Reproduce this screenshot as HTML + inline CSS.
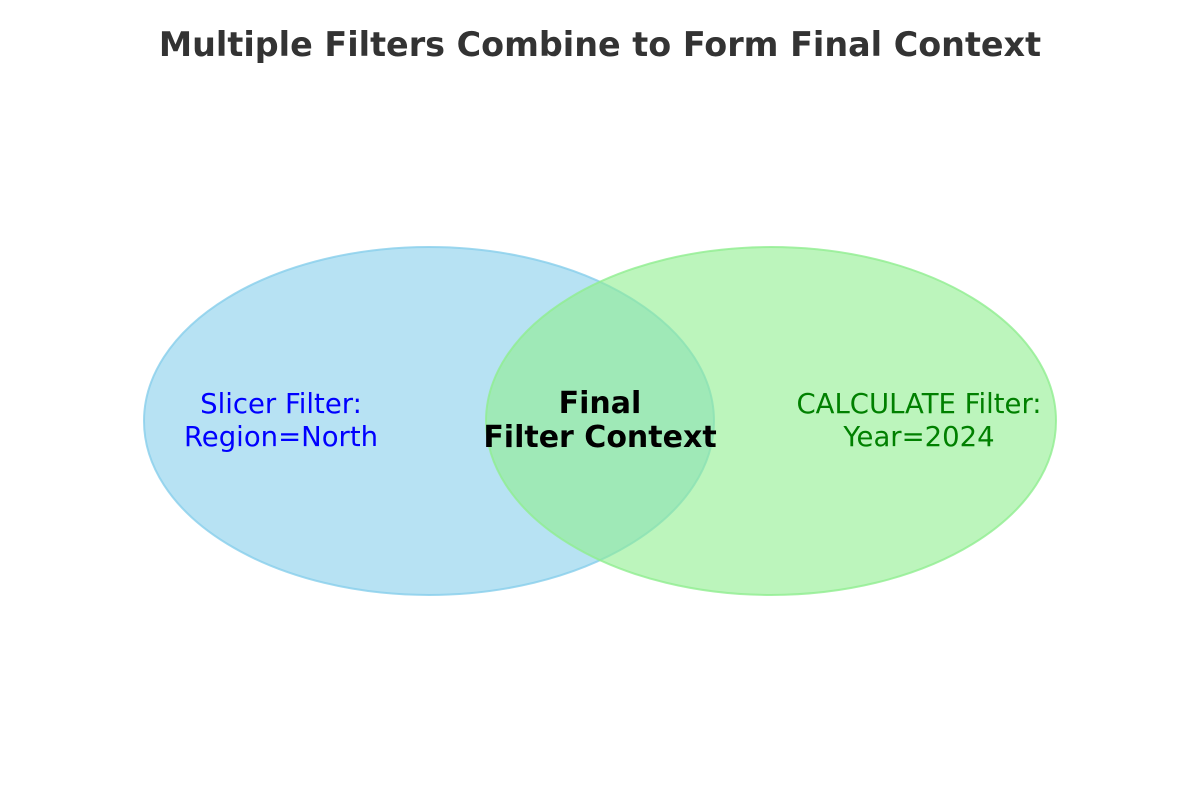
<!DOCTYPE html>
<html><head><meta charset="utf-8"><style>html,body{margin:0;padding:0;background:#fff}svg{display:block}</style></head>
<body>
<svg width="1200" height="800" viewBox="0 0 1200 800" xmlns="http://www.w3.org/2000/svg" font-family="DejaVu Sans, Liberation Sans, sans-serif">
<rect width="1200" height="800" fill="#fff"/>
<text x="600" y="56" text-anchor="middle" font-size="33.4" font-weight="bold" fill="#333">Multiple Filters Combine to Form Final Context</text>
<ellipse cx="429" cy="421" rx="285" ry="174" fill="#87CEEB" fill-opacity="0.6" stroke="#87CEEB" stroke-opacity="0.8" stroke-width="2"/>
<ellipse cx="771" cy="421" rx="285" ry="174" fill="#90EE90" fill-opacity="0.6" stroke="#90EE90" stroke-opacity="0.8" stroke-width="2"/>
<g font-size="27.5" text-anchor="middle">
<text x="281" y="413" fill="#0000ff">Slicer Filter:</text>
<text x="281" y="446" fill="#0000ff">Region=North</text>
<text x="919" y="413" fill="#008000">CALCULATE Filter:</text>
<text x="919" y="446" fill="#008000">Year=2024</text>
</g>
<g font-size="30" font-weight="bold" text-anchor="middle" fill="#000">
<text x="600" y="413">Final</text>
<text x="600" y="447">Filter Context</text>
</g>
</svg>
</body></html>
